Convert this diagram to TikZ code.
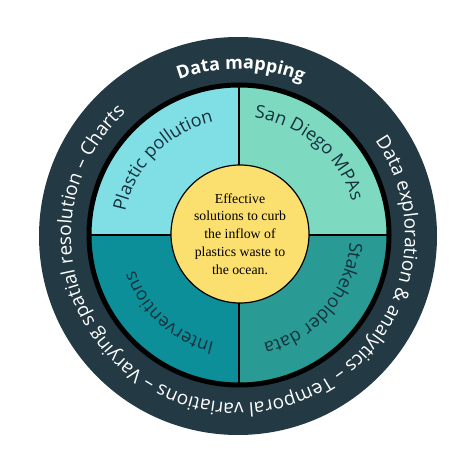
\documentclass[tikz,border=0pt]{standalone}
\usepackage{fontspec}
\setmainfont{Liberation Serif}
\newfontfamily\osans{Open Sans}
\usetikzlibrary{decorations.text}
\definecolor{ringc}{HTML}{233A45}
\definecolor{qtl}{HTML}{80DEE5}
\definecolor{qtr}{HTML}{7DDAC0}
\definecolor{qbl}{HTML}{0C8F99}
\definecolor{qbr}{HTML}{2A9B94}
\definecolor{ctr}{HTML}{FCE06F}
\definecolor{qtext}{HTML}{16303C}
\tikzset{
  quadlabel/.style={decorate, decoration={text along path, text align=center, text color=qtext, text={|\osans\fontsize{18}{20}\selectfont|#1}}},
  ringlabel/.style={decorate, decoration={text along path, text align=center, text color=white, text={|\osans\fontsize{19}{21}\selectfont|#1}}},
  ringtitle/.style={decorate, decoration={text along path, text align=center, text color=white, text={|\osans\bfseries\fontsize{18}{20}\selectfont|#1}}},
  divider/.style={line width=1.5pt, draw=black}
}
\begin{document}
\begin{tikzpicture}[x=1pt,y=1pt]
\useasboundingbox (0,0) rectangle (474,472);
\coordinate (O) at (239,237);
\fill[ringc] (238,236) circle[radius=199];
\begin{scope}[shift={(O)}]
  \fill[qtl] (0,0) -- (90:150) arc[start angle=90,end angle=180,radius=150] -- cycle;
  \fill[qtr] (0,0) -- (0:150) arc[start angle=0,end angle=90,radius=150] -- cycle;
  \fill[qbl] (0,0) -- (180:150) arc[start angle=180,end angle=270,radius=150] -- cycle;
  \fill[qbr] (0,0) -- (270:150) arc[start angle=270,end angle=360,radius=150] -- cycle;
  \coordinate (N) at (90:150);
  \coordinate (S) at (270:150);
  \coordinate (W) at (180:150);
  \coordinate (E) at (0:150);
\end{scope}
\draw[divider] (N) -- (S);
\draw[divider] (W) -- (E);
\draw[line width=5pt] (O) circle[radius=150];
\node[circle, fill=ctr, draw=black, line width=1.2pt, minimum size=138pt, inner sep=0pt, align=center, font=\fontsize{13.8}{17.8}\selectfont] (core) at (240,238) {Effective\\solutions to curb\\the inflow of\\plastics waste to\\the ocean.};
\begin{scope}[shift={(O)}]
  \path[quadlabel={Plastic pollution}] (195:116) arc[start angle=195, end angle=76, radius=116];
  \path[quadlabel={San Diego MPAs}] (110:118) arc[start angle=110, end angle=-11, radius=118];
  \path[quadlabel={Stakeholder data}] (20:111) arc[start angle=20, end angle=-101, radius=111];
  \path[quadlabel={Interventions}] (-72:110) arc[start angle=-72, end angle=-192, radius=110];
\end{scope}
\begin{scope}[shift={(238,236)}]
  \path[ringtitle={Data mapping}] (150:167) arc[start angle=150, end angle=28, radius=167];
  \path[ringlabel={Data exploration {\&} analytics – Temporal variations – Varying spatial resolution – Charts}] (85:167) arc[start angle=85, end angle=-278, radius=167];
\end{scope}
\end{tikzpicture}
\end{document}
